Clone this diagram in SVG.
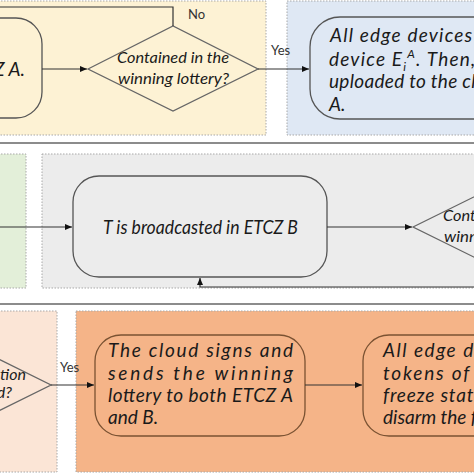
<svg xmlns="http://www.w3.org/2000/svg" width="474" height="474" viewBox="0 0 474 474">
<defs>
<style>
.panel{stroke:#a8a8a8;stroke-width:1;stroke-dasharray:1.5 1.5}
.box{stroke:#555;stroke-width:1.3}
.obox{stroke:#7a5232;stroke-width:1.3}
.dia{stroke:#666;stroke-width:1.3}
.sep{stroke:#8c8c8c;stroke-width:2.2;fill:none}
.conn{stroke:#333;stroke-width:1.2;fill:none}
.t{font-family:Lato,"Liberation Sans",Arial,sans-serif;font-style:italic;fill:#1a1a1a}
.big{font-size:19px}
.sm{font-size:16px}
.lab{font-family:Lato,"Liberation Sans",Arial,sans-serif;font-size:13px;fill:#333}
</style>
<marker id="ah" markerWidth="8" markerHeight="8" refX="7" refY="4" orient="auto" markerUnits="userSpaceOnUse">
<path d="M0,1 L7,4 L0,7 z" fill="#111"/>
</marker>
</defs>
<rect width="474" height="474" fill="#ffffff"/>

<!-- panels -->
<g id="panels">
<rect class="panel" x="-2" y="1" width="268" height="134" fill="#fdf2d4"/>
<rect class="panel" x="287" y="1" width="190" height="134" fill="#dfe8f4"/>
<rect class="panel" x="-2" y="154" width="28" height="134" fill="#e3efd9"/>
<rect class="panel" x="42" y="154" width="435" height="134" fill="#ececec"/>
<rect class="panel" x="-2" y="311" width="59" height="161" fill="#fbe5d6"/>
<rect class="panel" x="76" y="311" width="401" height="161" fill="#f5b488"/>
<line class="sep" x1="0" y1="143" x2="474" y2="143"/>
<line class="sep" x1="0" y1="304" x2="474" y2="304"/>
</g>

<!-- row 1 -->
<g id="nodeA">
<rect class="box" x="-60" y="18" width="102" height="100" rx="26" fill="#fdf2d4"/>
<text class="t big" x="25" y="76" text-anchor="end">ETCZ A.</text>
</g>
<g id="dec1">
<polygon class="dia" points="88,69 173,26 258,69 173,111" fill="#fdf2d4"/>
<text class="t sm" x="117" y="63" textLength="112" lengthAdjust="spacingAndGlyphs">Contained in the</text>
<text class="t sm" x="118" y="84" textLength="111" lengthAdjust="spacingAndGlyphs">winning lottery?</text>
</g>
<g id="nodeB">
<rect class="box" x="310" y="17" width="200" height="102" rx="30" fill="#dfe8f4"/>
<text class="t big" x="330" y="42" letter-spacing="1.2">All edge devices r</text>
<text class="t big" x="329" y="66" letter-spacing="1.2">device E<tspan font-size="12" dy="5">i</tspan><tspan font-size="12" dy="-13">A</tspan><tspan dy="8">. Then,</tspan></text>
<text class="t big" x="329" y="88" letter-spacing="0.3">uploaded to the clo</text>
<text class="t big" x="329" y="111">A.</text>
</g>

<!-- row 2 -->
<g id="nodeC">
<rect class="box" x="73" y="176" width="254" height="101" rx="26" fill="#ececec"/>
<text class="t big" x="103" y="234" textLength="195" lengthAdjust="spacingAndGlyphs">T is broadcasted in ETCZ B</text>
</g>
<g id="dec2">
<polygon class="dia" points="413,227 498,185 583,227 498,269" fill="#ececec"/>
<text class="t sm" x="443" y="221" textLength="112" lengthAdjust="spacingAndGlyphs">Contained in the</text>
<text class="t sm" x="444" y="242" textLength="111" lengthAdjust="spacingAndGlyphs">winning lottery?</text>
</g>

<!-- row 3 -->
<g id="dec3">
<polygon class="dia" points="-119,385 -34,343 51,385 -34,427" fill="#fbe5d6"/>
<text class="t sm" x="26" y="380" text-anchor="end">tion</text>
<text class="t sm" x="12" y="398" text-anchor="end">d?</text>
</g>
<g id="nodeD">
<rect class="obox" x="95" y="335" width="210" height="101" rx="26" fill="#f5b488"/>
<text class="t big" x="108" y="357" textLength="185" lengthAdjust="spacing">The cloud signs and</text>
<text class="t big" x="108" y="380" textLength="185" lengthAdjust="spacing">sends the winning</text>
<text class="t big" x="108" y="402" textLength="185" lengthAdjust="spacing">lottery to both ETCZ A</text>
<text class="t big" x="108" y="424">and B.</text>
</g>
<g id="nodeE">
<rect class="obox" x="363" y="335" width="200" height="101" rx="26" fill="#f5b488"/>
<text class="t big" x="383" y="357" letter-spacing="1.5">All edge de</text>
<text class="t big" x="383" y="380" letter-spacing="1.8">tokens of c</text>
<text class="t big" x="383" y="402" letter-spacing="0.8">freeze state</text>
<text class="t big" x="383" y="424">disarm the f</text>
</g>

<!-- connectors -->
<g id="connectors">
<line class="conn" x1="42" y1="69" x2="87" y2="69" marker-end="url(#ah)"/>
<polyline class="conn" points="173,26 173,7 0,7"/>
<text class="lab" x="188" y="19">No</text>
<line class="conn" x1="258" y1="69" x2="309" y2="69" marker-end="url(#ah)"/>
<text class="lab" x="271" y="55">Yes</text>
<line class="conn" x1="0" y1="227" x2="72" y2="227" marker-end="url(#ah)"/>
<line class="conn" x1="327" y1="227" x2="412" y2="227" marker-end="url(#ah)"/>
<polyline class="conn" points="474,287 200,287 200,278" marker-end="url(#ah)"/>
<line class="conn" x1="51" y1="385" x2="94" y2="385" marker-end="url(#ah)"/>
<text class="lab" x="60" y="372">Yes</text>
<line class="conn" x1="305" y1="385" x2="362" y2="385" marker-end="url(#ah)"/>
</g>
</svg>
